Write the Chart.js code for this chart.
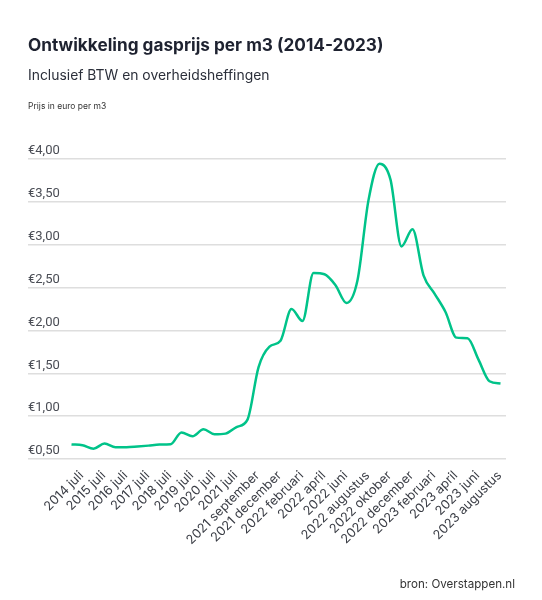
<!DOCTYPE html>
<html lang="nl">
<head>
<meta charset="utf-8">
<title>Ontwikkeling gasprijs per m3</title>
<script src="https://cdn.jsdelivr.net/npm/chart.js@4.4.1/dist/chart.umd.min.js"></script>
<style>
    html, body { margin: 0; padding: 0; background: #fff; }
    .wrap { position: relative; width: 542px; height: 600px; overflow: hidden; font-family: 'Inter', 'Lato', sans-serif; }
    .wrap canvas { position: absolute; left: 0; top: 0; }
    .titel { position: absolute; left: 28px; top: 32px; font-size: 17.2px; font-weight: 700; color: #1e2230; line-height: 26px; white-space: nowrap; }
    .subtitel { position: absolute; left: 28px; top: 65px; font-size: 13.9px; color: #2b2f3a; line-height: 20px; white-space: nowrap; }
    .eenheid { position: absolute; left: 28px; top: 100px; font-size: 8.5px; color: #333; line-height: 12px; white-space: nowrap; }
    .bron { position: absolute; right: 27px; top: 575px; font-size: 11.6px; color: #333; line-height: 18px; white-space: nowrap; }
</style>
</head>
<body>
<div class="wrap">
    <canvas id="myChart" width="542" height="600"></canvas>
    <div class="titel">Ontwikkeling gasprijs per m3 (2014-2023)</div>
    <div class="subtitel">Inclusief BTW en overheidsheffingen</div>
    <div class="eenheid">Prijs in euro per m3</div>
    <div class="bron">bron: Overstappen.nl</div>
</div>
<script>
// maanden (alleen de even posities krijgen een label op de as)
const maanden = [
    '2014 juli', '2015 januari', '2015 juli', '2016 januari', '2016 juli',
    '2017 januari', '2017 juli', '2018 januari', '2018 juli', '2019 januari',
    '2019 juli', '2020 januari', '2020 juli', '2021 januari', '2021 juli',
    '2021 augustus', '2021 september', '2021 november', '2021 december', '2022 januari',
    '2022 februari', '2022 maart', '2022 april', '2022 mei', '2022 juni',
    '2022 juli', '2022 augustus', '2022 september', '2022 oktober', '2022 november',
    '2022 december', '2023 januari', '2023 februari', '2023 maart', '2023 april',
    '2023 mei', '2023 juni', '2023 juli', '2023 augustus', '2023 september'
];

const gasprijs = [
    0.67, 0.66, 0.62, 0.68, 0.636,
    0.636, 0.645, 0.656, 0.668, 0.672,
    0.81, 0.765, 0.846, 0.788, 0.796,
    0.873, 0.96, 1.57, 1.81, 1.88,
    2.25, 2.11, 2.67, 2.655, 2.527,
    2.32, 2.585, 3.52, 3.946, 3.76,
    2.98, 3.18, 2.643, 2.43, 2.215,
    1.916, 1.91, 1.66, 1.407, 1.38
];

// waarden op de y-as
const yMin = 0.5;
const yMax = 4;
const yStap = 0.5;

const euro = (value) => '€' + Number(value).toFixed(2).replace('.', ',');

const ctx = document.getElementById('myChart').getContext('2d');

const chart = new Chart(ctx, {
    type: 'line',
    data: {
        labels: maanden,
        datasets: [{
            label: 'Gasprijs',
            data: gasprijs,
            borderColor: '#00c389',
            borderWidth: 2.5,
            pointRadius: 0,
            cubicInterpolationMode: 'monotone',
            fill: false
        }]
    },
    options: {
        responsive: false,
        animation: false,
        layout: {
            padding: { left: 28, right: 36, top: 159, bottom: 41 }
        },
        plugins: {
            legend: { display: false },
            tooltip: { enabled: false }
        },
        scales: {
            x: {
                offset: true,
                grid: { display: false },
                border: { display: false },
                ticks: {
                    autoSkip: false,
                    maxRotation: 45,
                    minRotation: 45,
                    padding: 1,
                    labelOffset: 10,
                    color: '#3a3d45',
                    font: { family: 'Inter', size: 12.8 },
                    // enkel de even posities tonen
                    callback: function (value, index) {
                        return index % 2 === 0 ? this.getLabelForValue(value) : '';
                    }
                },
                afterFit: (scale) => { scale.height = 100; }
            },
            y: {
                min: yMin,
                max: yMax,
                border: { display: false },
                grid: {
                    color: '#dedede',
                    lineWidth: 1.5,
                    tickLength: 38
                },
                ticks: {
                    stepSize: yStap,
                    crossAlign: 'far',
                    labelOffset: -8,
                    color: '#4a4d55',
                    font: { family: 'Roboto', size: 13 },
                    callback: (value) => euro(value)
                },
                afterFit: (scale) => { scale.width = 38; }
            }
        }
    }
});
</script>
</body>
</html>
